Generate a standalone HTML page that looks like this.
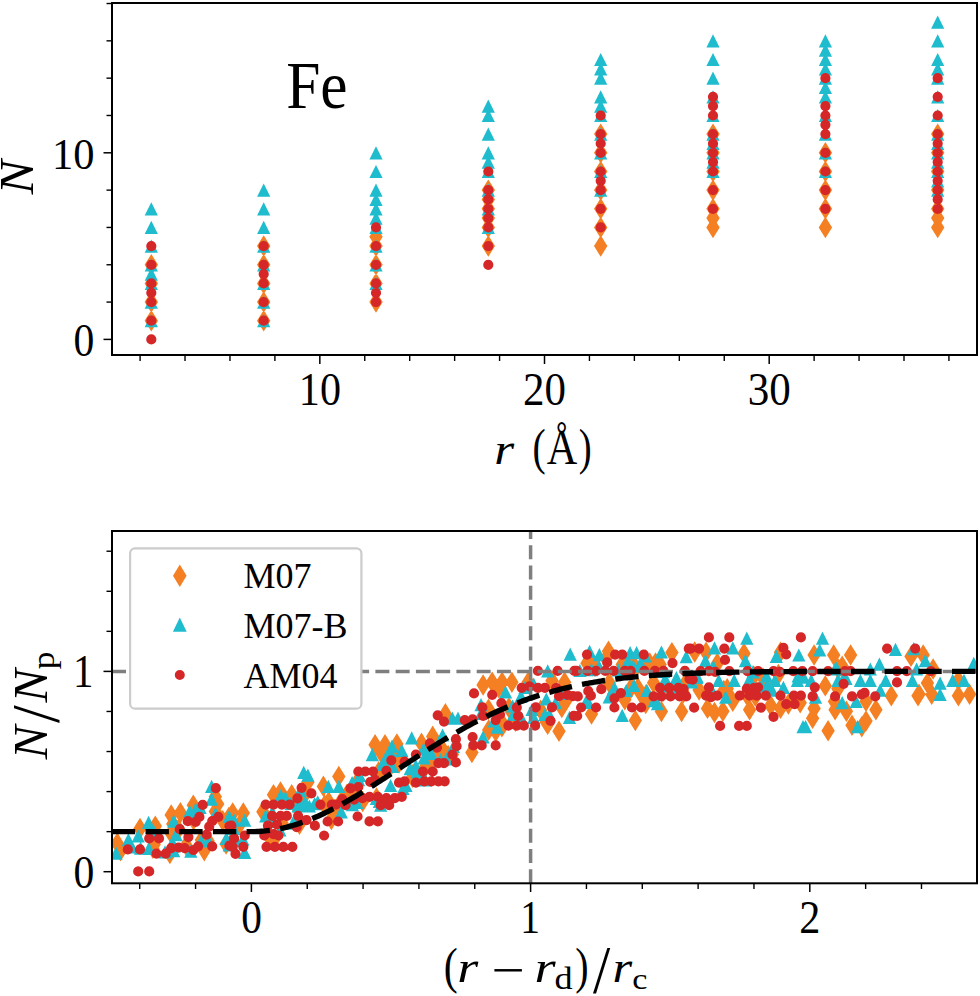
<!DOCTYPE html>
<html><head><meta charset="utf-8"><style>html,body{margin:0;padding:0;background:#fff;width:980px;height:996px;overflow:hidden}svg{display:block}</style></head>
<body><svg width="980" height="996" viewBox="0 0 980 996">
<rect width="980" height="996" fill="#fff"/>
<defs>
<clipPath id="ct"><rect x="112" y="3" width="865" height="352"/></clipPath>
<clipPath id="cb"><rect x="112" y="531" width="865" height="352.3"/></clipPath>
</defs>
<g clip-path="url(#ct)">
<path fill="#f58024" d="M151.3 310.0L158.0 320.7L151.3 331.5L144.6 320.7ZM151.3 291.3L158.0 302.1L151.3 312.8L144.6 302.1ZM151.3 272.7L158.0 283.4L151.3 294.2L144.6 283.4ZM151.3 254.0L158.0 264.8L151.3 275.5L144.6 264.8ZM263.7 310.0L270.4 320.7L263.7 331.5L257.0 320.7ZM263.7 291.3L270.4 302.1L263.7 312.8L257.0 302.1ZM263.7 272.7L270.4 283.4L263.7 294.2L257.0 283.4ZM263.7 254.0L270.4 264.8L263.7 275.5L257.0 264.8ZM263.7 235.3L270.4 246.1L263.7 256.8L257.0 246.1ZM376.0 291.3L382.7 302.1L376.0 312.8L369.3 302.1ZM376.0 272.7L382.7 283.4L376.0 294.2L369.3 283.4ZM376.0 254.0L382.7 264.8L376.0 275.5L369.3 264.8ZM376.0 235.3L382.7 246.1L376.0 256.8L369.3 246.1ZM376.0 226.0L382.7 236.8L376.0 247.5L369.3 236.8ZM488.3 235.3L495.0 246.1L488.3 256.8L481.6 246.1ZM488.3 216.7L495.0 227.4L488.3 238.2L481.6 227.4ZM488.3 207.4L495.0 218.1L488.3 228.9L481.6 218.1ZM488.3 198.0L495.0 208.8L488.3 219.5L481.6 208.8ZM488.3 188.7L495.0 199.4L488.3 210.2L481.6 199.4ZM488.3 179.4L495.0 190.1L488.3 200.9L481.6 190.1ZM600.7 235.3L607.4 246.1L600.7 256.8L594.0 246.1ZM600.7 216.7L607.4 227.4L600.7 238.2L594.0 227.4ZM600.7 198.0L607.4 208.8L600.7 219.5L594.0 208.8ZM600.7 179.4L607.4 190.1L600.7 200.9L594.0 190.1ZM600.7 160.7L607.4 171.5L600.7 182.2L594.0 171.5ZM600.7 142.0L607.4 152.8L600.7 163.5L594.0 152.8ZM600.7 123.4L607.4 134.1L600.7 144.9L594.0 134.1ZM713.0 216.7L719.7 227.4L713.0 238.2L706.3 227.4ZM713.0 207.4L719.7 218.1L713.0 228.9L706.3 218.1ZM713.0 198.0L719.7 208.8L713.0 219.5L706.3 208.8ZM713.0 179.4L719.7 190.1L713.0 200.9L706.3 190.1ZM713.0 160.7L719.7 171.5L713.0 182.2L706.3 171.5ZM713.0 142.0L719.7 152.8L713.0 163.5L706.3 152.8ZM713.0 123.4L719.7 134.1L713.0 144.9L706.3 134.1ZM825.4 216.7L832.1 227.4L825.4 238.2L818.7 227.4ZM825.4 198.0L832.1 208.8L825.4 219.5L818.7 208.8ZM825.4 179.4L832.1 190.1L825.4 200.9L818.7 190.1ZM825.4 160.7L832.1 171.5L825.4 182.2L818.7 171.5ZM825.4 142.0L832.1 152.8L825.4 163.5L818.7 152.8ZM937.7 216.7L944.4 227.4L937.7 238.2L931.0 227.4ZM937.7 207.4L944.4 218.1L937.7 228.9L931.0 218.1ZM937.7 198.0L944.4 208.8L937.7 219.5L931.0 208.8ZM937.7 179.4L944.4 190.1L937.7 200.9L931.0 190.1ZM937.7 160.7L944.4 171.5L937.7 182.2L931.0 171.5ZM937.7 142.0L944.4 152.8L937.7 163.5L931.0 152.8ZM937.7 123.4L944.4 134.1L937.7 144.9L931.0 134.1Z"/>
<path fill="#1fbcce" d="M151.3 314.1L157.9 327.3L144.7 327.3ZM151.3 295.5L157.9 308.7L144.7 308.7ZM151.3 276.8L157.9 290.0L144.7 290.0ZM151.3 267.5L157.9 280.7L144.7 280.7ZM151.3 258.2L157.9 271.4L144.7 271.4ZM151.3 239.5L157.9 252.7L144.7 252.7ZM151.3 220.8L157.9 234.0L144.7 234.0ZM151.3 202.2L157.9 215.4L144.7 215.4ZM263.7 314.1L270.3 327.3L257.1 327.3ZM263.7 295.5L270.3 308.7L257.1 308.7ZM263.7 276.8L270.3 290.0L257.1 290.0ZM263.7 258.2L270.3 271.4L257.1 271.4ZM263.7 239.5L270.3 252.7L257.1 252.7ZM263.7 220.8L270.3 234.0L257.1 234.0ZM263.7 202.2L270.3 215.4L257.1 215.4ZM263.7 183.5L270.3 196.7L257.1 196.7ZM376.0 276.8L382.6 290.0L369.4 290.0ZM376.0 258.2L382.6 271.4L369.4 271.4ZM376.0 239.5L382.6 252.7L369.4 252.7ZM376.0 220.8L382.6 234.0L369.4 234.0ZM376.0 211.5L382.6 224.7L369.4 224.7ZM376.0 202.2L382.6 215.4L369.4 215.4ZM376.0 192.8L382.6 206.0L369.4 206.0ZM376.0 183.5L382.6 196.7L369.4 196.7ZM376.0 164.9L382.6 178.1L369.4 178.1ZM376.0 146.2L382.6 159.4L369.4 159.4ZM488.3 220.8L494.9 234.0L481.7 234.0ZM488.3 202.2L494.9 215.4L481.7 215.4ZM488.3 183.5L494.9 196.7L481.7 196.7ZM488.3 164.9L494.9 178.1L481.7 178.1ZM488.3 155.5L494.9 168.7L481.7 168.7ZM488.3 146.2L494.9 159.4L481.7 159.4ZM488.3 127.5L494.9 140.7L481.7 140.7ZM488.3 108.9L494.9 122.1L481.7 122.1ZM488.3 99.5L494.9 112.7L481.7 112.7ZM600.7 183.5L607.3 196.7L594.1 196.7ZM600.7 164.9L607.3 178.1L594.1 178.1ZM600.7 146.2L607.3 159.4L594.1 159.4ZM600.7 127.5L607.3 140.7L594.1 140.7ZM600.7 108.9L607.3 122.1L594.1 122.1ZM600.7 99.5L607.3 112.7L594.1 112.7ZM600.7 90.2L607.3 103.4L594.1 103.4ZM600.7 71.6L607.3 84.8L594.1 84.8ZM600.7 62.2L607.3 75.4L594.1 75.4ZM600.7 52.9L607.3 66.1L594.1 66.1ZM713.0 164.9L719.6 178.1L706.4 178.1ZM713.0 155.5L719.6 168.7L706.4 168.7ZM713.0 146.2L719.6 159.4L706.4 159.4ZM713.0 136.9L719.6 150.1L706.4 150.1ZM713.0 127.5L719.6 140.7L706.4 140.7ZM713.0 108.9L719.6 122.1L706.4 122.1ZM713.0 90.2L719.6 103.4L706.4 103.4ZM713.0 71.6L719.6 84.8L706.4 84.8ZM713.0 52.9L719.6 66.1L706.4 66.1ZM713.0 34.2L719.6 47.4L706.4 47.4ZM825.4 164.9L832.0 178.1L818.8 178.1ZM825.4 146.2L832.0 159.4L818.8 159.4ZM825.4 127.5L832.0 140.7L818.8 140.7ZM825.4 108.9L832.0 122.1L818.8 122.1ZM825.4 90.2L832.0 103.4L818.8 103.4ZM825.4 80.9L832.0 94.1L818.8 94.1ZM825.4 71.6L832.0 84.8L818.8 84.8ZM825.4 62.2L832.0 75.4L818.8 75.4ZM825.4 52.9L832.0 66.1L818.8 66.1ZM825.4 43.6L832.0 56.8L818.8 56.8ZM825.4 34.2L832.0 47.4L818.8 47.4ZM937.7 183.5L944.3 196.7L931.1 196.7ZM937.7 174.2L944.3 187.4L931.1 187.4ZM937.7 164.9L944.3 178.1L931.1 178.1ZM937.7 155.5L944.3 168.7L931.1 168.7ZM937.7 146.2L944.3 159.4L931.1 159.4ZM937.7 136.9L944.3 150.1L931.1 150.1ZM937.7 127.5L944.3 140.7L931.1 140.7ZM937.7 108.9L944.3 122.1L931.1 122.1ZM937.7 90.2L944.3 103.4L931.1 103.4ZM937.7 71.6L944.3 84.8L931.1 84.8ZM937.7 62.2L944.3 75.4L931.1 75.4ZM937.7 52.9L944.3 66.1L931.1 66.1ZM937.7 34.2L944.3 47.4L931.1 47.4ZM937.7 15.6L944.3 28.8L931.1 28.8Z"/>
<path fill="#d62728" d="M146.2 339.4a5.1 5.1 0 1 0 10.2 0a5.1 5.1 0 1 0 -10.2 0ZM146.2 320.7a5.1 5.1 0 1 0 10.2 0a5.1 5.1 0 1 0 -10.2 0ZM146.2 302.1a5.1 5.1 0 1 0 10.2 0a5.1 5.1 0 1 0 -10.2 0ZM146.2 292.8a5.1 5.1 0 1 0 10.2 0a5.1 5.1 0 1 0 -10.2 0ZM146.2 283.4a5.1 5.1 0 1 0 10.2 0a5.1 5.1 0 1 0 -10.2 0ZM146.2 264.8a5.1 5.1 0 1 0 10.2 0a5.1 5.1 0 1 0 -10.2 0ZM146.2 246.1a5.1 5.1 0 1 0 10.2 0a5.1 5.1 0 1 0 -10.2 0ZM258.6 320.7a5.1 5.1 0 1 0 10.2 0a5.1 5.1 0 1 0 -10.2 0ZM258.6 302.1a5.1 5.1 0 1 0 10.2 0a5.1 5.1 0 1 0 -10.2 0ZM258.6 283.4a5.1 5.1 0 1 0 10.2 0a5.1 5.1 0 1 0 -10.2 0ZM258.6 274.1a5.1 5.1 0 1 0 10.2 0a5.1 5.1 0 1 0 -10.2 0ZM258.6 264.8a5.1 5.1 0 1 0 10.2 0a5.1 5.1 0 1 0 -10.2 0ZM258.6 246.1a5.1 5.1 0 1 0 10.2 0a5.1 5.1 0 1 0 -10.2 0ZM370.9 302.1a5.1 5.1 0 1 0 10.2 0a5.1 5.1 0 1 0 -10.2 0ZM370.9 292.8a5.1 5.1 0 1 0 10.2 0a5.1 5.1 0 1 0 -10.2 0ZM370.9 283.4a5.1 5.1 0 1 0 10.2 0a5.1 5.1 0 1 0 -10.2 0ZM370.9 264.8a5.1 5.1 0 1 0 10.2 0a5.1 5.1 0 1 0 -10.2 0ZM370.9 246.1a5.1 5.1 0 1 0 10.2 0a5.1 5.1 0 1 0 -10.2 0ZM370.9 227.4a5.1 5.1 0 1 0 10.2 0a5.1 5.1 0 1 0 -10.2 0ZM483.2 264.8a5.1 5.1 0 1 0 10.2 0a5.1 5.1 0 1 0 -10.2 0ZM483.2 246.1a5.1 5.1 0 1 0 10.2 0a5.1 5.1 0 1 0 -10.2 0ZM483.2 227.4a5.1 5.1 0 1 0 10.2 0a5.1 5.1 0 1 0 -10.2 0ZM483.2 218.1a5.1 5.1 0 1 0 10.2 0a5.1 5.1 0 1 0 -10.2 0ZM483.2 208.8a5.1 5.1 0 1 0 10.2 0a5.1 5.1 0 1 0 -10.2 0ZM483.2 199.4a5.1 5.1 0 1 0 10.2 0a5.1 5.1 0 1 0 -10.2 0ZM483.2 190.1a5.1 5.1 0 1 0 10.2 0a5.1 5.1 0 1 0 -10.2 0ZM483.2 171.5a5.1 5.1 0 1 0 10.2 0a5.1 5.1 0 1 0 -10.2 0ZM595.6 227.4a5.1 5.1 0 1 0 10.2 0a5.1 5.1 0 1 0 -10.2 0ZM595.6 208.8a5.1 5.1 0 1 0 10.2 0a5.1 5.1 0 1 0 -10.2 0ZM595.6 190.1a5.1 5.1 0 1 0 10.2 0a5.1 5.1 0 1 0 -10.2 0ZM595.6 180.8a5.1 5.1 0 1 0 10.2 0a5.1 5.1 0 1 0 -10.2 0ZM595.6 171.5a5.1 5.1 0 1 0 10.2 0a5.1 5.1 0 1 0 -10.2 0ZM595.6 152.8a5.1 5.1 0 1 0 10.2 0a5.1 5.1 0 1 0 -10.2 0ZM595.6 143.5a5.1 5.1 0 1 0 10.2 0a5.1 5.1 0 1 0 -10.2 0ZM595.6 134.1a5.1 5.1 0 1 0 10.2 0a5.1 5.1 0 1 0 -10.2 0ZM595.6 115.5a5.1 5.1 0 1 0 10.2 0a5.1 5.1 0 1 0 -10.2 0ZM707.9 208.8a5.1 5.1 0 1 0 10.2 0a5.1 5.1 0 1 0 -10.2 0ZM707.9 190.1a5.1 5.1 0 1 0 10.2 0a5.1 5.1 0 1 0 -10.2 0ZM707.9 171.5a5.1 5.1 0 1 0 10.2 0a5.1 5.1 0 1 0 -10.2 0ZM707.9 162.1a5.1 5.1 0 1 0 10.2 0a5.1 5.1 0 1 0 -10.2 0ZM707.9 152.8a5.1 5.1 0 1 0 10.2 0a5.1 5.1 0 1 0 -10.2 0ZM707.9 143.5a5.1 5.1 0 1 0 10.2 0a5.1 5.1 0 1 0 -10.2 0ZM707.9 134.1a5.1 5.1 0 1 0 10.2 0a5.1 5.1 0 1 0 -10.2 0ZM707.9 115.5a5.1 5.1 0 1 0 10.2 0a5.1 5.1 0 1 0 -10.2 0ZM707.9 106.1a5.1 5.1 0 1 0 10.2 0a5.1 5.1 0 1 0 -10.2 0ZM707.9 96.8a5.1 5.1 0 1 0 10.2 0a5.1 5.1 0 1 0 -10.2 0ZM820.3 208.8a5.1 5.1 0 1 0 10.2 0a5.1 5.1 0 1 0 -10.2 0ZM820.3 190.1a5.1 5.1 0 1 0 10.2 0a5.1 5.1 0 1 0 -10.2 0ZM820.3 171.5a5.1 5.1 0 1 0 10.2 0a5.1 5.1 0 1 0 -10.2 0ZM820.3 152.8a5.1 5.1 0 1 0 10.2 0a5.1 5.1 0 1 0 -10.2 0ZM820.3 134.1a5.1 5.1 0 1 0 10.2 0a5.1 5.1 0 1 0 -10.2 0ZM820.3 124.8a5.1 5.1 0 1 0 10.2 0a5.1 5.1 0 1 0 -10.2 0ZM820.3 115.5a5.1 5.1 0 1 0 10.2 0a5.1 5.1 0 1 0 -10.2 0ZM820.3 106.1a5.1 5.1 0 1 0 10.2 0a5.1 5.1 0 1 0 -10.2 0ZM820.3 78.2a5.1 5.1 0 1 0 10.2 0a5.1 5.1 0 1 0 -10.2 0ZM932.6 208.8a5.1 5.1 0 1 0 10.2 0a5.1 5.1 0 1 0 -10.2 0ZM932.6 199.4a5.1 5.1 0 1 0 10.2 0a5.1 5.1 0 1 0 -10.2 0ZM932.6 190.1a5.1 5.1 0 1 0 10.2 0a5.1 5.1 0 1 0 -10.2 0ZM932.6 180.8a5.1 5.1 0 1 0 10.2 0a5.1 5.1 0 1 0 -10.2 0ZM932.6 171.5a5.1 5.1 0 1 0 10.2 0a5.1 5.1 0 1 0 -10.2 0ZM932.6 162.1a5.1 5.1 0 1 0 10.2 0a5.1 5.1 0 1 0 -10.2 0ZM932.6 152.8a5.1 5.1 0 1 0 10.2 0a5.1 5.1 0 1 0 -10.2 0ZM932.6 143.5a5.1 5.1 0 1 0 10.2 0a5.1 5.1 0 1 0 -10.2 0ZM932.6 134.1a5.1 5.1 0 1 0 10.2 0a5.1 5.1 0 1 0 -10.2 0ZM932.6 115.5a5.1 5.1 0 1 0 10.2 0a5.1 5.1 0 1 0 -10.2 0ZM932.6 96.8a5.1 5.1 0 1 0 10.2 0a5.1 5.1 0 1 0 -10.2 0ZM932.6 78.2a5.1 5.1 0 1 0 10.2 0a5.1 5.1 0 1 0 -10.2 0Z"/>
</g>
<g clip-path="url(#cb)">
<path fill="#f58024" d="M120.5 840.0L127.2 850.7L120.5 861.5L113.8 850.7ZM154.2 833.8L160.9 844.5L154.2 855.3L147.5 844.5ZM169.9 842.7L176.6 853.4L169.9 864.2L163.2 853.4ZM172.8 813.1L179.5 823.9L172.8 834.6L166.1 823.9ZM178.5 818.7L185.2 829.4L178.5 840.2L171.8 829.4ZM186.2 834.8L192.9 845.5L186.2 856.3L179.5 845.5ZM193.5 809.0L200.2 819.8L193.5 830.5L186.8 819.8ZM201.4 829.3L208.1 840.1L201.4 850.8L194.7 840.1ZM217.7 793.3L224.4 804.0L217.7 814.8L211.0 804.0ZM216.2 792.0L222.9 802.7L216.2 813.5L209.5 802.7ZM222.8 810.0L229.5 820.7L222.8 831.5L216.1 820.7ZM226.1 833.3L232.8 844.0L226.1 854.8L219.4 844.0ZM233.0 829.4L239.7 840.1L233.0 850.9L226.3 840.1ZM240.0 813.3L246.7 824.1L240.0 834.8L233.3 824.1ZM270.0 827.6L276.7 838.4L270.0 849.1L263.3 838.4ZM274.9 827.5L281.6 838.3L274.9 849.0L268.2 838.3ZM282.1 812.6L288.8 823.3L282.1 834.1L275.4 823.3ZM293.6 790.2L300.3 801.0L293.6 811.7L286.9 801.0ZM294.1 792.0L300.8 802.8L294.1 813.5L287.4 802.8ZM300.5 811.4L307.2 822.1L300.5 832.9L293.8 822.1ZM324.7 794.4L331.4 805.1L324.7 815.9L318.0 805.1ZM331.4 808.8L338.1 819.5L331.4 830.3L324.7 819.5ZM328.7 791.1L335.4 801.9L328.7 812.6L322.0 801.9ZM334.4 799.1L341.1 809.9L334.4 820.6L327.7 809.9ZM334.9 800.8L341.6 811.5L334.9 822.3L328.2 811.5ZM342.4 788.6L349.1 799.4L342.4 810.1L335.7 799.4ZM347.0 783.5L353.7 794.2L347.0 805.0L340.3 794.2ZM355.3 775.6L362.0 786.3L355.3 797.1L348.6 786.3ZM362.7 790.8L369.4 801.5L362.7 812.3L356.0 801.5ZM358.2 784.8L364.9 795.6L358.2 806.3L351.5 795.6ZM376.5 787.2L383.2 797.9L376.5 808.7L369.8 797.9ZM378.7 761.0L385.4 771.8L378.7 782.5L372.0 771.8ZM389.9 756.4L396.6 767.1L389.9 777.9L383.2 767.1ZM395.5 736.3L402.2 747.0L395.5 757.8L388.8 747.0ZM412.5 766.6L419.2 777.4L412.5 788.1L405.8 777.4ZM429.8 753.4L436.5 764.1L429.8 774.9L423.1 764.1ZM430.0 736.5L436.7 747.2L430.0 758.0L423.3 747.2ZM439.5 740.8L446.2 751.6L439.5 762.3L432.8 751.6ZM448.3 744.9L455.0 755.7L448.3 766.4L441.6 755.7ZM452.4 743.9L459.1 754.6L452.4 765.4L445.7 754.6ZM488.5 698.5L495.2 709.2L488.5 720.0L481.8 709.2ZM498.8 677.1L505.5 687.8L498.8 698.6L492.1 687.8ZM501.9 716.1L508.6 726.9L501.9 737.6L495.2 726.9ZM503.3 713.9L510.0 724.7L503.3 735.4L496.6 724.7ZM508.9 696.9L515.6 707.7L508.9 718.4L502.2 707.7ZM515.4 710.5L522.1 721.3L515.4 732.0L508.7 721.3ZM546.2 711.2L552.9 722.0L546.2 732.7L539.5 722.0ZM566.5 689.2L573.2 700.0L566.5 710.7L559.8 700.0ZM587.0 652.4L593.7 663.2L587.0 673.9L580.3 663.2ZM595.0 655.5L601.7 666.2L595.0 677.0L588.3 666.2ZM606.1 647.8L612.8 658.6L606.1 669.3L599.4 658.6ZM613.4 683.8L620.1 694.6L613.4 705.3L606.7 694.6ZM622.4 658.5L629.1 669.3L622.4 680.0L615.7 669.3ZM631.0 677.2L637.7 687.9L631.0 698.7L624.3 687.9ZM635.6 657.0L642.3 667.7L635.6 678.5L628.9 667.7ZM645.7 688.7L652.4 699.5L645.7 710.2L639.0 699.5ZM646.2 683.8L652.9 694.6L646.2 705.3L639.5 694.6ZM655.5 652.3L662.2 663.1L655.5 673.8L648.8 663.1ZM663.0 680.8L669.7 691.6L663.0 702.3L656.3 691.6ZM675.6 676.4L682.3 687.1L675.6 697.9L668.9 687.1ZM683.4 682.1L690.1 692.9L683.4 703.6L676.7 692.9ZM694.7 641.3L701.4 652.1L694.7 662.8L688.0 652.1ZM723.8 679.8L730.5 690.5L723.8 701.3L717.1 690.5ZM746.8 684.3L753.5 695.1L746.8 705.8L740.1 695.1ZM753.8 665.2L760.5 675.9L753.8 686.7L747.1 675.9ZM755.3 685.6L762.0 696.4L755.3 707.1L748.6 696.4ZM763.0 667.2L769.7 678.0L763.0 688.7L756.3 678.0ZM778.4 663.7L785.1 674.4L778.4 685.2L771.7 674.4ZM788.4 693.3L795.1 704.0L788.4 714.8L781.7 704.0ZM834.5 690.8L841.2 701.6L834.5 712.3L827.8 701.6ZM838.2 658.3L844.9 669.0L838.2 679.8L831.5 669.0ZM171.2 804.3L177.9 815.1L171.2 825.8L164.5 815.1ZM180.4 801.9L187.1 812.7L180.4 823.4L173.7 812.7ZM193.3 794.6L200.0 805.3L193.3 816.1L186.6 805.3ZM215.3 786.0L222.0 796.7L215.3 807.5L208.6 796.7ZM215.3 800.7L222.0 811.4L215.3 822.2L208.6 811.4ZM228.8 806.8L235.5 817.5L228.8 828.3L222.1 817.5ZM140.0 817.8L146.7 828.6L140.0 839.3L133.3 828.6ZM155.3 815.4L162.0 826.1L155.3 836.9L148.6 826.1ZM117.3 832.5L124.0 843.3L117.3 854.0L110.6 843.3ZM152.9 837.4L159.6 848.2L152.9 858.9L146.2 848.2ZM204.3 839.9L211.0 850.6L204.3 861.4L197.6 850.6ZM171.2 822.7L177.9 833.5L171.2 844.2L164.5 833.5ZM208.0 830.1L214.7 840.8L208.0 851.6L201.3 840.8ZM232.7 802.3L239.4 813.1L232.7 823.8L226.0 813.1ZM243.3 802.3L250.0 813.1L243.3 823.8L236.6 813.1ZM273.5 784.0L280.2 794.8L273.5 805.5L266.8 794.8ZM280.5 781.2L287.2 792.0L280.5 802.7L273.8 792.0ZM291.7 784.0L298.4 794.8L291.7 805.5L285.0 794.8ZM338.8 765.8L345.5 776.5L338.8 787.3L332.1 776.5ZM323.4 775.6L330.1 786.4L323.4 797.1L316.7 786.4ZM303.7 785.5L310.4 796.2L303.7 807.0L297.0 796.2ZM307.9 771.4L314.6 782.2L307.9 792.9L301.2 782.2ZM262.9 800.9L269.6 811.7L262.9 822.4L256.2 811.7ZM299.5 813.6L306.2 824.3L299.5 835.1L292.8 824.3ZM337.4 802.3L344.1 813.1L337.4 823.8L330.7 813.1ZM375.1 734.0L381.8 744.8L375.1 755.5L368.4 744.8ZM385.0 734.0L391.7 744.8L385.0 755.5L378.3 744.8ZM396.9 733.3L403.6 744.1L396.9 754.8L390.2 744.1ZM445.4 703.1L452.1 713.9L445.4 724.6L438.7 713.9ZM432.7 725.6L439.4 736.4L432.7 747.1L426.0 736.4ZM421.5 732.6L428.2 743.4L421.5 754.1L414.8 743.4ZM444.0 741.1L450.7 751.8L444.0 762.6L437.3 751.8ZM399.0 752.3L405.7 763.1L399.0 773.8L392.3 763.1ZM413.1 763.6L419.8 774.3L413.1 785.1L406.4 774.3ZM382.2 743.9L388.9 754.6L382.2 765.4L375.5 754.6ZM358.3 769.2L365.0 779.9L358.3 790.7L351.6 779.9ZM424.3 757.9L431.0 768.7L424.3 779.4L417.6 768.7ZM483.1 674.2L489.8 685.0L483.1 695.7L476.4 685.0ZM492.2 671.4L498.9 682.2L492.2 692.9L485.5 682.2ZM502.1 671.4L508.8 682.2L502.1 692.9L495.4 682.2ZM511.9 671.4L518.6 682.2L511.9 692.9L505.2 682.2ZM528.1 671.4L534.8 682.2L528.1 692.9L521.4 682.2ZM559.0 720.6L565.7 731.3L559.0 742.1L552.3 731.3ZM547.7 713.6L554.4 724.3L547.7 735.1L541.0 724.3ZM552.0 670.0L558.7 680.7L552.0 691.5L545.3 680.7ZM564.6 671.4L571.3 682.2L564.6 692.9L557.9 682.2ZM540.7 699.5L547.4 710.3L540.7 721.0L534.0 710.3ZM488.7 719.2L495.4 729.9L488.7 740.7L482.0 729.9ZM471.9 741.7L478.6 752.4L471.9 763.2L465.2 752.4ZM495.7 720.6L502.4 731.3L495.7 742.1L489.0 731.3ZM561.8 696.7L568.5 707.4L561.8 718.2L555.1 707.4ZM608.5 640.6L615.2 651.3L608.5 662.1L601.8 651.3ZM671.9 641.9L678.6 652.6L671.9 663.4L665.2 652.6ZM592.2 655.0L598.9 665.7L592.2 676.5L585.5 665.7ZM622.2 653.6L628.9 664.4L622.2 675.1L615.5 664.4ZM632.7 653.6L639.4 664.4L632.7 675.1L626.0 664.4ZM649.7 652.3L656.4 663.1L649.7 673.8L643.0 663.1ZM660.1 653.6L666.8 664.4L660.1 675.1L653.4 664.4ZM609.2 671.9L615.9 682.7L609.2 693.4L602.5 682.7ZM637.9 677.2L644.6 687.9L637.9 698.7L631.2 687.9ZM624.8 688.9L631.5 699.7L624.8 710.4L618.1 699.7ZM645.7 692.8L652.4 703.6L645.7 714.3L639.0 703.6ZM640.5 682.4L647.2 693.1L640.5 703.9L633.8 693.1ZM591.5 703.3L598.2 714.0L591.5 724.8L584.8 714.0ZM635.3 709.8L642.0 720.5L635.3 731.3L628.6 720.5ZM661.4 700.7L668.1 711.4L661.4 722.2L654.7 711.4ZM681.6 700.7L688.3 711.4L681.6 722.2L674.9 711.4ZM653.6 671.9L660.3 682.7L653.6 693.4L646.9 682.7ZM684.9 673.2L691.6 684.0L684.9 694.7L678.2 684.0ZM706.1 641.4L712.8 652.2L706.1 662.9L699.4 652.2ZM744.0 642.8L750.7 653.6L744.0 664.3L737.3 653.6ZM780.5 641.4L787.2 652.2L780.5 662.9L773.8 652.2ZM717.3 652.6L724.0 663.4L717.3 674.1L710.6 663.4ZM765.1 672.3L771.8 683.1L765.1 693.8L758.4 683.1ZM699.1 679.3L705.8 690.1L699.1 700.8L692.4 690.1ZM727.2 677.9L733.9 688.7L727.2 699.4L720.5 688.7ZM707.5 697.6L714.2 708.4L707.5 719.1L700.8 708.4ZM714.5 701.8L721.2 712.6L714.5 723.3L707.8 712.6ZM722.9 700.4L729.6 711.2L722.9 721.9L716.2 711.2ZM749.6 699.0L756.3 709.8L749.6 720.5L742.9 709.8ZM770.7 694.8L777.4 705.5L770.7 716.3L764.0 705.5ZM780.5 697.6L787.2 708.4L780.5 719.1L773.8 708.4ZM800.2 692.0L806.9 702.7L800.2 713.5L793.5 702.7ZM732.8 690.6L739.5 701.3L732.8 712.1L726.1 701.3ZM814.1 644.2L820.8 655.0L814.1 665.7L807.4 655.0ZM833.7 644.2L840.4 655.0L833.7 665.7L827.0 655.0ZM850.6 644.2L857.3 655.0L850.6 665.7L843.9 655.0ZM842.2 655.5L848.9 666.2L842.2 677.0L835.5 666.2ZM825.3 675.1L832.0 685.9L825.3 696.6L818.6 685.9ZM837.9 677.9L844.6 688.7L837.9 699.4L831.2 688.7ZM891.3 685.0L898.0 695.7L891.3 706.5L884.6 695.7ZM918.0 685.0L924.7 695.7L918.0 706.5L911.3 695.7ZM814.1 697.6L820.8 708.4L814.1 719.1L807.4 708.4ZM835.1 699.0L841.8 709.8L835.1 720.5L828.4 709.8ZM846.4 700.4L853.1 711.2L846.4 721.9L839.7 711.2ZM875.9 699.0L882.6 709.8L875.9 720.5L869.2 709.8ZM812.6 707.4L819.3 718.2L812.6 728.9L805.9 718.2ZM828.1 720.1L834.8 730.8L828.1 741.6L821.4 730.8ZM852.0 714.5L858.7 725.2L852.0 736.0L845.3 725.2ZM861.8 715.9L868.5 726.6L861.8 737.4L855.1 726.6ZM866.0 710.3L872.7 721.0L866.0 731.8L859.3 721.0ZM866.0 690.6L872.7 701.3L866.0 712.1L859.3 701.3ZM911.0 645.6L917.7 656.4L911.0 667.1L904.3 656.4ZM923.2 644.2L929.9 655.0L923.2 665.7L916.5 655.0ZM919.0 683.6L925.7 694.3L919.0 705.1L912.3 694.3ZM931.7 683.6L938.4 694.3L931.7 705.1L925.0 694.3ZM933.1 658.3L939.8 669.0L933.1 679.8L926.4 669.0ZM958.4 685.0L965.1 695.7L958.4 706.5L951.7 695.7ZM969.6 683.6L976.3 694.3L969.6 705.1L962.9 694.3ZM927.4 672.3L934.1 683.1L927.4 693.8L920.7 683.1ZM958.4 669.5L965.1 680.3L958.4 691.0L951.7 680.3Z"/>
<path fill="#1fbcce" d="M131.9 840.3L138.5 853.5L125.3 853.5ZM153.9 824.9L160.5 838.1L147.3 838.1ZM148.9 841.7L155.5 854.9L142.3 854.9ZM165.0 845.3L171.6 858.5L158.4 858.5ZM172.4 835.8L179.0 849.0L165.8 849.0ZM174.3 839.4L180.9 852.6L167.7 852.6ZM189.7 810.6L196.3 823.8L183.1 823.8ZM200.1 800.8L206.7 814.0L193.5 814.0ZM201.2 834.3L207.8 847.5L194.6 847.5ZM208.2 833.5L214.8 846.7L201.6 846.7ZM215.5 807.1L222.1 820.3L208.9 820.3ZM229.2 809.9L235.8 823.1L222.6 823.1ZM229.2 838.4L235.8 851.6L222.6 851.6ZM233.6 821.7L240.2 834.9L227.0 834.9ZM235.2 833.7L241.8 846.9L228.6 846.9ZM242.9 832.6L249.5 845.8L236.3 845.8ZM273.8 814.7L280.4 827.9L267.2 827.9ZM272.3 805.2L278.9 818.4L265.7 818.4ZM279.9 823.3L286.5 836.5L273.3 836.5ZM280.8 788.9L287.4 802.1L274.2 802.1ZM291.0 796.8L297.6 810.0L284.4 810.0ZM292.8 816.5L299.4 829.7L286.2 829.7ZM295.5 816.2L302.1 829.4L288.9 829.4ZM301.0 798.7L307.6 811.9L294.4 811.9ZM300.6 783.5L307.2 796.7L294.0 796.7ZM305.0 795.5L311.6 808.7L298.4 808.7ZM306.0 797.4L312.6 810.6L299.4 810.6ZM314.6 797.0L321.2 810.2L308.0 810.2ZM341.3 805.2L347.9 818.4L334.7 818.4ZM352.1 776.1L358.7 789.3L345.5 789.3ZM352.4 798.1L359.0 811.3L345.8 811.3ZM358.6 773.1L365.2 786.3L352.0 786.3ZM359.6 768.9L366.2 782.1L353.0 782.1ZM374.1 769.5L380.7 782.7L367.5 782.7ZM376.4 791.7L383.0 804.9L369.8 804.9ZM379.3 794.9L385.9 808.1L372.7 808.1ZM385.2 752.6L391.8 765.8L378.6 765.8ZM392.6 759.7L399.2 772.9L386.0 772.9ZM390.1 744.8L396.7 758.0L383.5 758.0ZM403.0 781.8L409.6 795.0L396.4 795.0ZM410.2 762.1L416.8 775.3L403.6 775.3ZM417.2 765.0L423.8 778.2L410.6 778.2ZM419.6 773.3L426.2 786.5L413.0 786.5ZM425.5 773.4L432.1 786.6L418.9 786.6ZM424.0 751.3L430.6 764.5L417.4 764.5ZM430.5 746.9L437.1 760.1L423.9 760.1ZM440.5 753.1L447.1 766.3L433.9 766.3ZM446.3 752.2L452.9 765.4L439.7 765.4ZM453.4 739.7L460.0 752.9L446.8 752.9ZM481.0 706.7L487.6 719.9L474.4 719.9ZM494.0 714.3L500.6 727.5L487.4 727.5ZM513.3 707.9L519.9 721.1L506.7 721.1ZM521.9 712.2L528.5 725.4L515.3 725.4ZM525.0 680.8L531.6 694.0L518.4 694.0ZM532.0 702.9L538.6 716.1L525.4 716.1ZM533.7 677.6L540.3 690.8L527.1 690.8ZM549.3 707.7L555.9 720.9L542.7 720.9ZM555.6 696.1L562.2 709.3L549.0 709.3ZM560.4 686.8L567.0 700.0L553.8 700.0ZM579.9 663.9L586.5 677.1L573.3 677.1ZM587.2 695.9L593.8 709.1L580.6 709.1ZM599.2 659.9L605.8 673.1L592.6 673.1ZM618.3 663.2L624.9 676.4L611.7 676.4ZM627.8 654.7L634.4 667.9L621.2 667.9ZM633.2 659.4L639.8 672.6L626.6 672.6ZM645.2 649.2L651.8 662.4L638.6 662.4ZM654.3 694.0L660.9 707.2L647.7 707.2ZM663.8 664.8L670.4 678.0L657.2 678.0ZM667.1 679.2L673.7 692.4L660.5 692.4ZM673.9 682.0L680.5 695.2L667.3 695.2ZM676.2 680.3L682.8 693.5L669.6 693.5ZM691.8 675.4L698.4 688.6L685.2 688.6ZM697.1 669.9L703.7 683.1L690.5 683.1ZM711.8 683.6L718.4 696.8L705.2 696.8ZM713.4 660.1L720.0 673.3L706.8 673.3ZM752.9 665.3L759.5 678.5L746.3 678.5ZM761.3 679.8L767.9 693.0L754.7 693.0ZM766.9 678.9L773.5 692.1L760.3 692.1ZM798.2 669.3L804.8 682.5L791.6 682.5ZM803.7 670.6L810.3 683.8L797.1 683.8ZM836.6 661.4L843.2 674.6L830.0 674.6ZM843.5 671.2L850.1 684.4L836.9 684.4ZM846.0 671.8L852.6 685.0L839.4 685.0ZM211.6 779.7L218.2 792.9L205.0 792.9ZM211.6 792.6L218.2 805.8L205.0 805.8ZM189.6 804.8L196.2 818.0L183.0 818.0ZM173.7 814.6L180.3 827.8L167.1 827.8ZM148.6 815.8L155.2 829.0L142.0 829.0ZM138.2 829.3L144.8 842.5L131.6 842.5ZM128.4 833.0L135.0 846.2L121.8 846.2ZM116.1 846.5L122.7 859.7L109.5 859.7ZM176.1 828.1L182.7 841.3L169.5 841.3ZM190.8 844.6L197.4 857.8L184.2 857.8ZM226.3 831.8L232.9 845.0L219.7 845.0ZM195.7 802.4L202.3 815.6L189.1 815.6ZM140.6 841.6L147.2 854.8L134.0 854.8ZM173.7 844.0L180.3 857.2L167.1 857.2ZM303.7 765.7L310.3 778.9L297.1 778.9ZM307.9 768.5L314.5 781.7L301.3 781.7ZM328.3 779.8L334.9 793.0L321.7 793.0ZM338.8 779.8L345.4 793.0L332.2 793.0ZM285.4 791.0L292.0 804.2L278.8 804.2ZM298.1 799.4L304.7 812.6L291.5 812.6ZM317.7 795.2L324.3 808.4L311.1 808.4ZM309.3 799.4L315.9 812.6L302.7 812.6ZM234.1 813.5L240.7 826.7L227.5 826.7ZM244.7 813.5L251.3 826.7L238.1 826.7ZM265.7 809.3L272.3 822.5L259.1 822.5ZM244.7 845.8L251.3 859.0L238.1 859.0ZM411.7 731.2L418.3 744.4L405.1 744.4ZM372.3 748.0L378.9 761.2L365.7 761.2ZM392.0 739.6L398.6 752.8L385.4 752.8ZM401.8 743.8L408.4 757.0L395.2 757.0ZM423.6 742.4L430.2 755.6L417.0 755.6ZM452.4 711.5L459.0 724.7L445.8 724.7ZM458.0 711.5L464.6 724.7L451.4 724.7ZM442.6 728.4L449.2 741.6L436.0 741.6ZM431.3 746.6L437.9 759.8L424.7 759.8ZM415.9 759.3L422.5 772.5L409.3 772.5ZM382.2 757.9L388.8 771.1L375.6 771.1ZM390.6 778.9L397.2 792.1L384.0 792.1ZM406.0 778.9L412.6 792.1L399.4 792.1ZM356.9 795.8L363.5 809.0L350.3 809.0ZM380.7 798.6L387.3 811.8L374.1 811.8ZM570.2 647.5L576.8 660.7L563.6 660.7ZM547.7 664.3L554.3 677.5L541.1 677.5ZM505.6 685.4L512.2 698.6L499.0 698.6ZM481.0 698.0L487.6 711.2L474.4 711.2ZM512.6 699.4L519.2 712.6L506.0 712.6ZM483.1 730.4L489.7 743.6L476.5 743.6ZM497.2 720.5L503.8 733.7L490.6 733.7ZM544.9 707.9L551.5 721.1L538.3 721.1ZM569.5 710.7L576.1 723.9L562.9 723.9ZM546.3 692.4L552.9 705.6L539.7 705.6ZM521.0 689.6L527.6 702.8L514.4 702.8ZM533.7 710.7L540.3 723.9L527.1 723.9ZM599.4 648.0L606.0 661.2L592.8 661.2ZM589.6 644.7L596.2 657.9L583.0 657.9ZM630.1 646.0L636.7 659.2L623.5 659.2ZM636.6 646.0L643.2 659.2L630.0 659.2ZM661.4 645.4L668.0 658.6L654.8 658.6ZM686.2 650.0L692.8 663.2L679.6 663.2ZM591.5 663.0L598.1 676.2L584.9 676.2ZM640.5 656.5L647.1 669.7L633.9 669.7ZM676.4 670.9L683.0 684.1L669.8 684.1ZM665.3 672.2L671.9 685.4L658.7 685.4ZM614.4 681.3L621.0 694.5L607.8 694.5ZM609.2 690.4L615.8 703.6L602.6 703.6ZM626.2 683.9L632.8 697.1L619.6 697.1ZM647.0 683.9L653.6 697.1L640.4 697.1ZM622.2 708.7L628.8 721.9L615.6 721.9ZM657.5 697.0L664.1 710.2L650.9 710.2ZM634.0 678.7L640.6 691.9L627.4 691.9ZM587.0 693.1L593.6 706.3L580.4 706.3ZM746.8 631.5L753.4 644.7L740.2 644.7ZM714.5 641.3L721.1 654.5L707.9 654.5ZM732.8 641.3L739.4 654.5L726.2 654.5ZM705.4 654.0L712.0 667.2L698.8 667.2ZM745.4 654.0L752.0 667.2L738.8 667.2ZM776.3 649.8L782.9 663.0L769.7 663.0ZM798.8 648.4L805.4 661.6L792.2 661.6ZM696.9 670.8L703.5 684.0L690.3 684.0ZM718.7 673.7L725.3 686.9L712.1 686.9ZM734.2 673.7L740.8 686.9L727.6 686.9ZM749.6 672.2L756.2 685.4L743.0 685.4ZM766.5 669.4L773.1 682.6L759.9 682.6ZM774.9 673.7L781.5 686.9L768.3 686.9ZM797.4 673.7L804.0 686.9L790.8 686.9ZM725.7 690.5L732.3 703.7L719.1 703.7ZM783.4 680.7L790.0 693.9L776.8 693.9ZM803.0 720.0L809.6 733.2L796.4 733.2ZM772.1 683.5L778.7 696.7L765.5 696.7ZM822.5 631.5L829.1 644.7L815.9 644.7ZM819.7 643.4L826.3 656.6L813.1 656.6ZM895.5 642.7L902.1 655.9L888.9 655.9ZM913.8 642.0L920.4 655.2L907.2 655.2ZM879.4 657.5L886.0 670.7L872.8 670.7ZM870.3 662.4L876.9 675.6L863.7 675.6ZM835.1 662.4L841.7 675.6L828.5 675.6ZM860.4 673.7L867.0 686.9L853.8 686.9ZM870.3 673.7L876.9 686.9L863.7 686.9ZM837.9 673.7L844.5 686.9L831.3 686.9ZM885.7 673.7L892.3 686.9L879.1 686.9ZM912.4 673.7L919.0 686.9L905.8 686.9ZM811.2 673.7L817.8 686.9L804.6 686.9ZM880.1 683.5L886.7 696.7L873.5 696.7ZM815.5 690.5L822.1 703.7L808.9 703.7ZM842.2 696.1L848.8 709.3L835.6 709.3ZM856.2 694.7L862.8 707.9L849.6 707.9ZM805.6 720.0L812.2 733.2L799.0 733.2ZM857.6 720.0L864.2 733.2L851.0 733.2ZM916.6 662.4L923.2 675.6L910.0 675.6ZM925.3 654.0L931.9 667.2L918.7 667.2ZM940.1 676.5L946.7 689.7L933.5 689.7ZM940.1 687.7L946.7 700.9L933.5 700.9ZM952.7 673.7L959.3 686.9L946.1 686.9ZM964.0 673.7L970.6 686.9L957.4 686.9ZM973.8 656.8L980.4 670.0L967.2 670.0Z"/>
<path fill="#d62728" d="M210.8 788.2a5.1 5.1 0 1 0 10.2 0a5.1 5.1 0 1 0 -10.2 0ZM197.6 804.9a5.1 5.1 0 1 0 10.2 0a5.1 5.1 0 1 0 -10.2 0ZM194.3 816.9a5.1 5.1 0 1 0 10.2 0a5.1 5.1 0 1 0 -10.2 0ZM190.6 821.8a5.1 5.1 0 1 0 10.2 0a5.1 5.1 0 1 0 -10.2 0ZM182.7 821.2a5.1 5.1 0 1 0 10.2 0a5.1 5.1 0 1 0 -10.2 0ZM213.3 816.9a5.1 5.1 0 1 0 10.2 0a5.1 5.1 0 1 0 -10.2 0ZM207.1 821.2a5.1 5.1 0 1 0 10.2 0a5.1 5.1 0 1 0 -10.2 0ZM204.1 826.7a5.1 5.1 0 1 0 10.2 0a5.1 5.1 0 1 0 -10.2 0ZM174.7 829.2a5.1 5.1 0 1 0 10.2 0a5.1 5.1 0 1 0 -10.2 0ZM201.6 834.7a5.1 5.1 0 1 0 10.2 0a5.1 5.1 0 1 0 -10.2 0ZM144.1 838.4a5.1 5.1 0 1 0 10.2 0a5.1 5.1 0 1 0 -10.2 0ZM153.9 838.4a5.1 5.1 0 1 0 10.2 0a5.1 5.1 0 1 0 -10.2 0ZM183.3 837.1a5.1 5.1 0 1 0 10.2 0a5.1 5.1 0 1 0 -10.2 0ZM122.7 849.4a5.1 5.1 0 1 0 10.2 0a5.1 5.1 0 1 0 -10.2 0ZM134.9 849.4a5.1 5.1 0 1 0 10.2 0a5.1 5.1 0 1 0 -10.2 0ZM151.4 853.7a5.1 5.1 0 1 0 10.2 0a5.1 5.1 0 1 0 -10.2 0ZM160.6 853.7a5.1 5.1 0 1 0 10.2 0a5.1 5.1 0 1 0 -10.2 0ZM166.1 848.2a5.1 5.1 0 1 0 10.2 0a5.1 5.1 0 1 0 -10.2 0ZM173.5 847.5a5.1 5.1 0 1 0 10.2 0a5.1 5.1 0 1 0 -10.2 0ZM179.6 848.2a5.1 5.1 0 1 0 10.2 0a5.1 5.1 0 1 0 -10.2 0ZM188.2 850.0a5.1 5.1 0 1 0 10.2 0a5.1 5.1 0 1 0 -10.2 0ZM193.1 846.3a5.1 5.1 0 1 0 10.2 0a5.1 5.1 0 1 0 -10.2 0ZM207.1 846.3a5.1 5.1 0 1 0 10.2 0a5.1 5.1 0 1 0 -10.2 0ZM133.1 871.4a5.1 5.1 0 1 0 10.2 0a5.1 5.1 0 1 0 -10.2 0ZM144.1 871.4a5.1 5.1 0 1 0 10.2 0a5.1 5.1 0 1 0 -10.2 0ZM224.3 826.1a5.1 5.1 0 1 0 10.2 0a5.1 5.1 0 1 0 -10.2 0ZM224.3 845.7a5.1 5.1 0 1 0 10.2 0a5.1 5.1 0 1 0 -10.2 0ZM226.2 825.7a5.1 5.1 0 1 0 10.2 0a5.1 5.1 0 1 0 -10.2 0ZM229.0 838.4a5.1 5.1 0 1 0 10.2 0a5.1 5.1 0 1 0 -10.2 0ZM227.6 846.8a5.1 5.1 0 1 0 10.2 0a5.1 5.1 0 1 0 -10.2 0ZM230.4 853.8a5.1 5.1 0 1 0 10.2 0a5.1 5.1 0 1 0 -10.2 0ZM239.6 835.5a5.1 5.1 0 1 0 10.2 0a5.1 5.1 0 1 0 -10.2 0ZM238.2 846.8a5.1 5.1 0 1 0 10.2 0a5.1 5.1 0 1 0 -10.2 0ZM260.6 804.6a5.1 5.1 0 1 0 10.2 0a5.1 5.1 0 1 0 -10.2 0ZM268.4 804.6a5.1 5.1 0 1 0 10.2 0a5.1 5.1 0 1 0 -10.2 0ZM276.8 804.6a5.1 5.1 0 1 0 10.2 0a5.1 5.1 0 1 0 -10.2 0ZM284.5 804.6a5.1 5.1 0 1 0 10.2 0a5.1 5.1 0 1 0 -10.2 0ZM267.0 815.9a5.1 5.1 0 1 0 10.2 0a5.1 5.1 0 1 0 -10.2 0ZM275.4 815.9a5.1 5.1 0 1 0 10.2 0a5.1 5.1 0 1 0 -10.2 0ZM281.7 815.9a5.1 5.1 0 1 0 10.2 0a5.1 5.1 0 1 0 -10.2 0ZM262.8 825.7a5.1 5.1 0 1 0 10.2 0a5.1 5.1 0 1 0 -10.2 0ZM271.9 824.3a5.1 5.1 0 1 0 10.2 0a5.1 5.1 0 1 0 -10.2 0ZM259.2 835.5a5.1 5.1 0 1 0 10.2 0a5.1 5.1 0 1 0 -10.2 0ZM268.4 834.1a5.1 5.1 0 1 0 10.2 0a5.1 5.1 0 1 0 -10.2 0ZM273.3 835.5a5.1 5.1 0 1 0 10.2 0a5.1 5.1 0 1 0 -10.2 0ZM261.4 846.8a5.1 5.1 0 1 0 10.2 0a5.1 5.1 0 1 0 -10.2 0ZM269.8 846.8a5.1 5.1 0 1 0 10.2 0a5.1 5.1 0 1 0 -10.2 0ZM278.2 846.8a5.1 5.1 0 1 0 10.2 0a5.1 5.1 0 1 0 -10.2 0ZM287.3 846.8a5.1 5.1 0 1 0 10.2 0a5.1 5.1 0 1 0 -10.2 0ZM296.5 787.8a5.1 5.1 0 1 0 10.2 0a5.1 5.1 0 1 0 -10.2 0ZM306.3 793.4a5.1 5.1 0 1 0 10.2 0a5.1 5.1 0 1 0 -10.2 0ZM292.3 798.3a5.1 5.1 0 1 0 10.2 0a5.1 5.1 0 1 0 -10.2 0ZM293.0 815.9a5.1 5.1 0 1 0 10.2 0a5.1 5.1 0 1 0 -10.2 0ZM301.4 820.1a5.1 5.1 0 1 0 10.2 0a5.1 5.1 0 1 0 -10.2 0ZM309.8 825.7a5.1 5.1 0 1 0 10.2 0a5.1 5.1 0 1 0 -10.2 0ZM315.4 804.6a5.1 5.1 0 1 0 10.2 0a5.1 5.1 0 1 0 -10.2 0ZM326.7 804.6a5.1 5.1 0 1 0 10.2 0a5.1 5.1 0 1 0 -10.2 0ZM330.9 804.6a5.1 5.1 0 1 0 10.2 0a5.1 5.1 0 1 0 -10.2 0ZM337.2 799.0a5.1 5.1 0 1 0 10.2 0a5.1 5.1 0 1 0 -10.2 0ZM322.5 821.5a5.1 5.1 0 1 0 10.2 0a5.1 5.1 0 1 0 -10.2 0ZM333.0 821.5a5.1 5.1 0 1 0 10.2 0a5.1 5.1 0 1 0 -10.2 0ZM319.0 835.5a5.1 5.1 0 1 0 10.2 0a5.1 5.1 0 1 0 -10.2 0ZM291.6 827.1a5.1 5.1 0 1 0 10.2 0a5.1 5.1 0 1 0 -10.2 0ZM432.6 715.3a5.1 5.1 0 1 0 10.2 0a5.1 5.1 0 1 0 -10.2 0ZM438.9 721.6a5.1 5.1 0 1 0 10.2 0a5.1 5.1 0 1 0 -10.2 0ZM424.8 743.4a5.1 5.1 0 1 0 10.2 0a5.1 5.1 0 1 0 -10.2 0ZM431.9 747.6a5.1 5.1 0 1 0 10.2 0a5.1 5.1 0 1 0 -10.2 0ZM410.8 754.6a5.1 5.1 0 1 0 10.2 0a5.1 5.1 0 1 0 -10.2 0ZM399.5 761.7a5.1 5.1 0 1 0 10.2 0a5.1 5.1 0 1 0 -10.2 0ZM386.2 760.3a5.1 5.1 0 1 0 10.2 0a5.1 5.1 0 1 0 -10.2 0ZM353.2 771.5a5.1 5.1 0 1 0 10.2 0a5.1 5.1 0 1 0 -10.2 0ZM360.2 771.5a5.1 5.1 0 1 0 10.2 0a5.1 5.1 0 1 0 -10.2 0ZM367.9 771.5a5.1 5.1 0 1 0 10.2 0a5.1 5.1 0 1 0 -10.2 0ZM381.3 770.8a5.1 5.1 0 1 0 10.2 0a5.1 5.1 0 1 0 -10.2 0ZM345.4 788.4a5.1 5.1 0 1 0 10.2 0a5.1 5.1 0 1 0 -10.2 0ZM353.2 787.0a5.1 5.1 0 1 0 10.2 0a5.1 5.1 0 1 0 -10.2 0ZM365.1 782.0a5.1 5.1 0 1 0 10.2 0a5.1 5.1 0 1 0 -10.2 0ZM370.0 779.9a5.1 5.1 0 1 0 10.2 0a5.1 5.1 0 1 0 -10.2 0ZM393.9 782.7a5.1 5.1 0 1 0 10.2 0a5.1 5.1 0 1 0 -10.2 0ZM399.5 781.3a5.1 5.1 0 1 0 10.2 0a5.1 5.1 0 1 0 -10.2 0ZM410.8 782.7a5.1 5.1 0 1 0 10.2 0a5.1 5.1 0 1 0 -10.2 0ZM417.8 771.5a5.1 5.1 0 1 0 10.2 0a5.1 5.1 0 1 0 -10.2 0ZM427.6 771.5a5.1 5.1 0 1 0 10.2 0a5.1 5.1 0 1 0 -10.2 0ZM419.2 781.3a5.1 5.1 0 1 0 10.2 0a5.1 5.1 0 1 0 -10.2 0ZM426.2 781.3a5.1 5.1 0 1 0 10.2 0a5.1 5.1 0 1 0 -10.2 0ZM433.3 781.3a5.1 5.1 0 1 0 10.2 0a5.1 5.1 0 1 0 -10.2 0ZM439.6 781.3a5.1 5.1 0 1 0 10.2 0a5.1 5.1 0 1 0 -10.2 0ZM433.3 763.1a5.1 5.1 0 1 0 10.2 0a5.1 5.1 0 1 0 -10.2 0ZM438.9 763.1a5.1 5.1 0 1 0 10.2 0a5.1 5.1 0 1 0 -10.2 0ZM447.3 754.6a5.1 5.1 0 1 0 10.2 0a5.1 5.1 0 1 0 -10.2 0ZM450.8 762.4a5.1 5.1 0 1 0 10.2 0a5.1 5.1 0 1 0 -10.2 0ZM450.8 739.2a5.1 5.1 0 1 0 10.2 0a5.1 5.1 0 1 0 -10.2 0ZM451.5 746.2a5.1 5.1 0 1 0 10.2 0a5.1 5.1 0 1 0 -10.2 0ZM340.5 805.2a5.1 5.1 0 1 0 10.2 0a5.1 5.1 0 1 0 -10.2 0ZM349.0 799.6a5.1 5.1 0 1 0 10.2 0a5.1 5.1 0 1 0 -10.2 0ZM357.4 798.2a5.1 5.1 0 1 0 10.2 0a5.1 5.1 0 1 0 -10.2 0ZM364.4 796.8a5.1 5.1 0 1 0 10.2 0a5.1 5.1 0 1 0 -10.2 0ZM372.8 796.8a5.1 5.1 0 1 0 10.2 0a5.1 5.1 0 1 0 -10.2 0ZM381.3 798.2a5.1 5.1 0 1 0 10.2 0a5.1 5.1 0 1 0 -10.2 0ZM389.7 798.2a5.1 5.1 0 1 0 10.2 0a5.1 5.1 0 1 0 -10.2 0ZM396.7 796.8a5.1 5.1 0 1 0 10.2 0a5.1 5.1 0 1 0 -10.2 0ZM375.6 805.2a5.1 5.1 0 1 0 10.2 0a5.1 5.1 0 1 0 -10.2 0ZM384.1 805.2a5.1 5.1 0 1 0 10.2 0a5.1 5.1 0 1 0 -10.2 0ZM352.5 816.5a5.1 5.1 0 1 0 10.2 0a5.1 5.1 0 1 0 -10.2 0ZM364.4 821.4a5.1 5.1 0 1 0 10.2 0a5.1 5.1 0 1 0 -10.2 0ZM372.8 821.4a5.1 5.1 0 1 0 10.2 0a5.1 5.1 0 1 0 -10.2 0ZM468.9 693.4a5.1 5.1 0 1 0 10.2 0a5.1 5.1 0 1 0 -10.2 0ZM487.1 694.8a5.1 5.1 0 1 0 10.2 0a5.1 5.1 0 1 0 -10.2 0ZM477.3 707.4a5.1 5.1 0 1 0 10.2 0a5.1 5.1 0 1 0 -10.2 0ZM478.0 715.9a5.1 5.1 0 1 0 10.2 0a5.1 5.1 0 1 0 -10.2 0ZM496.3 703.2a5.1 5.1 0 1 0 10.2 0a5.1 5.1 0 1 0 -10.2 0ZM494.9 714.5a5.1 5.1 0 1 0 10.2 0a5.1 5.1 0 1 0 -10.2 0ZM490.6 720.1a5.1 5.1 0 1 0 10.2 0a5.1 5.1 0 1 0 -10.2 0ZM459.7 720.1a5.1 5.1 0 1 0 10.2 0a5.1 5.1 0 1 0 -10.2 0ZM467.5 719.4a5.1 5.1 0 1 0 10.2 0a5.1 5.1 0 1 0 -10.2 0ZM467.5 737.0a5.1 5.1 0 1 0 10.2 0a5.1 5.1 0 1 0 -10.2 0ZM468.2 745.4a5.1 5.1 0 1 0 10.2 0a5.1 5.1 0 1 0 -10.2 0ZM476.6 745.4a5.1 5.1 0 1 0 10.2 0a5.1 5.1 0 1 0 -10.2 0ZM490.6 745.4a5.1 5.1 0 1 0 10.2 0a5.1 5.1 0 1 0 -10.2 0ZM511.7 707.4a5.1 5.1 0 1 0 10.2 0a5.1 5.1 0 1 0 -10.2 0ZM513.1 715.9a5.1 5.1 0 1 0 10.2 0a5.1 5.1 0 1 0 -10.2 0ZM503.3 725.7a5.1 5.1 0 1 0 10.2 0a5.1 5.1 0 1 0 -10.2 0ZM511.7 725.7a5.1 5.1 0 1 0 10.2 0a5.1 5.1 0 1 0 -10.2 0ZM518.7 725.7a5.1 5.1 0 1 0 10.2 0a5.1 5.1 0 1 0 -10.2 0ZM530.0 725.7a5.1 5.1 0 1 0 10.2 0a5.1 5.1 0 1 0 -10.2 0ZM516.6 687.8a5.1 5.1 0 1 0 10.2 0a5.1 5.1 0 1 0 -10.2 0ZM524.4 686.4a5.1 5.1 0 1 0 10.2 0a5.1 5.1 0 1 0 -10.2 0ZM532.8 687.8a5.1 5.1 0 1 0 10.2 0a5.1 5.1 0 1 0 -10.2 0ZM539.8 687.8a5.1 5.1 0 1 0 10.2 0a5.1 5.1 0 1 0 -10.2 0ZM530.7 707.4a5.1 5.1 0 1 0 10.2 0a5.1 5.1 0 1 0 -10.2 0ZM546.9 707.4a5.1 5.1 0 1 0 10.2 0a5.1 5.1 0 1 0 -10.2 0ZM545.4 720.8a5.1 5.1 0 1 0 10.2 0a5.1 5.1 0 1 0 -10.2 0ZM532.8 670.9a5.1 5.1 0 1 0 10.2 0a5.1 5.1 0 1 0 -10.2 0ZM552.5 670.9a5.1 5.1 0 1 0 10.2 0a5.1 5.1 0 1 0 -10.2 0ZM569.3 670.9a5.1 5.1 0 1 0 10.2 0a5.1 5.1 0 1 0 -10.2 0ZM551.1 687.8a5.1 5.1 0 1 0 10.2 0a5.1 5.1 0 1 0 -10.2 0ZM553.9 696.2a5.1 5.1 0 1 0 10.2 0a5.1 5.1 0 1 0 -10.2 0ZM562.3 694.8a5.1 5.1 0 1 0 10.2 0a5.1 5.1 0 1 0 -10.2 0ZM567.9 696.2a5.1 5.1 0 1 0 10.2 0a5.1 5.1 0 1 0 -10.2 0ZM568.6 715.9a5.1 5.1 0 1 0 10.2 0a5.1 5.1 0 1 0 -10.2 0ZM581.9 654.6a5.1 5.1 0 1 0 10.2 0a5.1 5.1 0 1 0 -10.2 0ZM610.0 654.6a5.1 5.1 0 1 0 10.2 0a5.1 5.1 0 1 0 -10.2 0ZM617.1 654.6a5.1 5.1 0 1 0 10.2 0a5.1 5.1 0 1 0 -10.2 0ZM638.7 654.6a5.1 5.1 0 1 0 10.2 0a5.1 5.1 0 1 0 -10.2 0ZM683.7 648.7a5.1 5.1 0 1 0 10.2 0a5.1 5.1 0 1 0 -10.2 0ZM602.1 662.4a5.1 5.1 0 1 0 10.2 0a5.1 5.1 0 1 0 -10.2 0ZM667.4 663.1a5.1 5.1 0 1 0 10.2 0a5.1 5.1 0 1 0 -10.2 0ZM571.4 670.9a5.1 5.1 0 1 0 10.2 0a5.1 5.1 0 1 0 -10.2 0ZM582.5 670.9a5.1 5.1 0 1 0 10.2 0a5.1 5.1 0 1 0 -10.2 0ZM591.0 670.9a5.1 5.1 0 1 0 10.2 0a5.1 5.1 0 1 0 -10.2 0ZM600.2 670.9a5.1 5.1 0 1 0 10.2 0a5.1 5.1 0 1 0 -10.2 0ZM608.6 670.9a5.1 5.1 0 1 0 10.2 0a5.1 5.1 0 1 0 -10.2 0ZM619.7 670.9a5.1 5.1 0 1 0 10.2 0a5.1 5.1 0 1 0 -10.2 0ZM625.6 670.9a5.1 5.1 0 1 0 10.2 0a5.1 5.1 0 1 0 -10.2 0ZM639.3 670.9a5.1 5.1 0 1 0 10.2 0a5.1 5.1 0 1 0 -10.2 0ZM649.8 670.9a5.1 5.1 0 1 0 10.2 0a5.1 5.1 0 1 0 -10.2 0ZM658.3 670.9a5.1 5.1 0 1 0 10.2 0a5.1 5.1 0 1 0 -10.2 0ZM679.8 670.9a5.1 5.1 0 1 0 10.2 0a5.1 5.1 0 1 0 -10.2 0ZM583.2 691.2a5.1 5.1 0 1 0 10.2 0a5.1 5.1 0 1 0 -10.2 0ZM596.2 689.2a5.1 5.1 0 1 0 10.2 0a5.1 5.1 0 1 0 -10.2 0ZM585.8 695.7a5.1 5.1 0 1 0 10.2 0a5.1 5.1 0 1 0 -10.2 0ZM572.7 696.4a5.1 5.1 0 1 0 10.2 0a5.1 5.1 0 1 0 -10.2 0ZM615.8 693.1a5.1 5.1 0 1 0 10.2 0a5.1 5.1 0 1 0 -10.2 0ZM609.3 698.3a5.1 5.1 0 1 0 10.2 0a5.1 5.1 0 1 0 -10.2 0ZM576.0 707.5a5.1 5.1 0 1 0 10.2 0a5.1 5.1 0 1 0 -10.2 0ZM572.1 716.0a5.1 5.1 0 1 0 10.2 0a5.1 5.1 0 1 0 -10.2 0ZM591.0 707.5a5.1 5.1 0 1 0 10.2 0a5.1 5.1 0 1 0 -10.2 0ZM609.3 707.5a5.1 5.1 0 1 0 10.2 0a5.1 5.1 0 1 0 -10.2 0ZM626.9 707.5a5.1 5.1 0 1 0 10.2 0a5.1 5.1 0 1 0 -10.2 0ZM636.1 707.5a5.1 5.1 0 1 0 10.2 0a5.1 5.1 0 1 0 -10.2 0ZM648.5 696.4a5.1 5.1 0 1 0 10.2 0a5.1 5.1 0 1 0 -10.2 0ZM656.3 696.4a5.1 5.1 0 1 0 10.2 0a5.1 5.1 0 1 0 -10.2 0ZM665.4 696.4a5.1 5.1 0 1 0 10.2 0a5.1 5.1 0 1 0 -10.2 0ZM674.6 696.4a5.1 5.1 0 1 0 10.2 0a5.1 5.1 0 1 0 -10.2 0ZM681.1 696.4a5.1 5.1 0 1 0 10.2 0a5.1 5.1 0 1 0 -10.2 0ZM655.0 687.9a5.1 5.1 0 1 0 10.2 0a5.1 5.1 0 1 0 -10.2 0ZM664.1 687.9a5.1 5.1 0 1 0 10.2 0a5.1 5.1 0 1 0 -10.2 0ZM673.3 687.9a5.1 5.1 0 1 0 10.2 0a5.1 5.1 0 1 0 -10.2 0ZM678.5 689.2a5.1 5.1 0 1 0 10.2 0a5.1 5.1 0 1 0 -10.2 0ZM684.4 678.8a5.1 5.1 0 1 0 10.2 0a5.1 5.1 0 1 0 -10.2 0ZM703.8 637.4a5.1 5.1 0 1 0 10.2 0a5.1 5.1 0 1 0 -10.2 0ZM724.2 637.4a5.1 5.1 0 1 0 10.2 0a5.1 5.1 0 1 0 -10.2 0ZM795.8 637.4a5.1 5.1 0 1 0 10.2 0a5.1 5.1 0 1 0 -10.2 0ZM685.5 648.6a5.1 5.1 0 1 0 10.2 0a5.1 5.1 0 1 0 -10.2 0ZM694.0 648.6a5.1 5.1 0 1 0 10.2 0a5.1 5.1 0 1 0 -10.2 0ZM719.2 648.6a5.1 5.1 0 1 0 10.2 0a5.1 5.1 0 1 0 -10.2 0ZM778.3 647.9a5.1 5.1 0 1 0 10.2 0a5.1 5.1 0 1 0 -10.2 0ZM781.1 654.3a5.1 5.1 0 1 0 10.2 0a5.1 5.1 0 1 0 -10.2 0ZM719.9 659.9a5.1 5.1 0 1 0 10.2 0a5.1 5.1 0 1 0 -10.2 0ZM695.4 671.1a5.1 5.1 0 1 0 10.2 0a5.1 5.1 0 1 0 -10.2 0ZM703.8 671.1a5.1 5.1 0 1 0 10.2 0a5.1 5.1 0 1 0 -10.2 0ZM710.1 671.8a5.1 5.1 0 1 0 10.2 0a5.1 5.1 0 1 0 -10.2 0ZM724.2 671.1a5.1 5.1 0 1 0 10.2 0a5.1 5.1 0 1 0 -10.2 0ZM742.4 671.1a5.1 5.1 0 1 0 10.2 0a5.1 5.1 0 1 0 -10.2 0ZM753.0 671.1a5.1 5.1 0 1 0 10.2 0a5.1 5.1 0 1 0 -10.2 0ZM768.4 671.1a5.1 5.1 0 1 0 10.2 0a5.1 5.1 0 1 0 -10.2 0ZM774.7 671.8a5.1 5.1 0 1 0 10.2 0a5.1 5.1 0 1 0 -10.2 0ZM788.1 671.1a5.1 5.1 0 1 0 10.2 0a5.1 5.1 0 1 0 -10.2 0ZM797.2 671.1a5.1 5.1 0 1 0 10.2 0a5.1 5.1 0 1 0 -10.2 0ZM687.6 679.6a5.1 5.1 0 1 0 10.2 0a5.1 5.1 0 1 0 -10.2 0ZM703.8 687.3a5.1 5.1 0 1 0 10.2 0a5.1 5.1 0 1 0 -10.2 0ZM701.0 695.7a5.1 5.1 0 1 0 10.2 0a5.1 5.1 0 1 0 -10.2 0ZM705.9 697.1a5.1 5.1 0 1 0 10.2 0a5.1 5.1 0 1 0 -10.2 0ZM712.2 695.7a5.1 5.1 0 1 0 10.2 0a5.1 5.1 0 1 0 -10.2 0ZM734.7 695.7a5.1 5.1 0 1 0 10.2 0a5.1 5.1 0 1 0 -10.2 0ZM741.7 688.7a5.1 5.1 0 1 0 10.2 0a5.1 5.1 0 1 0 -10.2 0ZM748.7 688.0a5.1 5.1 0 1 0 10.2 0a5.1 5.1 0 1 0 -10.2 0ZM753.0 687.3a5.1 5.1 0 1 0 10.2 0a5.1 5.1 0 1 0 -10.2 0ZM744.5 695.7a5.1 5.1 0 1 0 10.2 0a5.1 5.1 0 1 0 -10.2 0ZM751.6 695.7a5.1 5.1 0 1 0 10.2 0a5.1 5.1 0 1 0 -10.2 0ZM760.7 695.7a5.1 5.1 0 1 0 10.2 0a5.1 5.1 0 1 0 -10.2 0ZM775.4 695.7a5.1 5.1 0 1 0 10.2 0a5.1 5.1 0 1 0 -10.2 0ZM788.8 695.7a5.1 5.1 0 1 0 10.2 0a5.1 5.1 0 1 0 -10.2 0ZM795.8 695.7a5.1 5.1 0 1 0 10.2 0a5.1 5.1 0 1 0 -10.2 0ZM781.1 704.1a5.1 5.1 0 1 0 10.2 0a5.1 5.1 0 1 0 -10.2 0ZM789.5 704.1a5.1 5.1 0 1 0 10.2 0a5.1 5.1 0 1 0 -10.2 0ZM689.0 707.7a5.1 5.1 0 1 0 10.2 0a5.1 5.1 0 1 0 -10.2 0ZM755.8 707.7a5.1 5.1 0 1 0 10.2 0a5.1 5.1 0 1 0 -10.2 0ZM768.4 716.8a5.1 5.1 0 1 0 10.2 0a5.1 5.1 0 1 0 -10.2 0ZM715.0 725.9a5.1 5.1 0 1 0 10.2 0a5.1 5.1 0 1 0 -10.2 0ZM734.0 725.9a5.1 5.1 0 1 0 10.2 0a5.1 5.1 0 1 0 -10.2 0ZM741.7 725.9a5.1 5.1 0 1 0 10.2 0a5.1 5.1 0 1 0 -10.2 0ZM882.0 648.6a5.1 5.1 0 1 0 10.2 0a5.1 5.1 0 1 0 -10.2 0ZM910.1 648.6a5.1 5.1 0 1 0 10.2 0a5.1 5.1 0 1 0 -10.2 0ZM807.5 671.1a5.1 5.1 0 1 0 10.2 0a5.1 5.1 0 1 0 -10.2 0ZM823.0 671.1a5.1 5.1 0 1 0 10.2 0a5.1 5.1 0 1 0 -10.2 0ZM839.9 671.1a5.1 5.1 0 1 0 10.2 0a5.1 5.1 0 1 0 -10.2 0ZM845.5 671.1a5.1 5.1 0 1 0 10.2 0a5.1 5.1 0 1 0 -10.2 0ZM891.9 671.1a5.1 5.1 0 1 0 10.2 0a5.1 5.1 0 1 0 -10.2 0ZM901.7 671.1a5.1 5.1 0 1 0 10.2 0a5.1 5.1 0 1 0 -10.2 0ZM838.5 683.8a5.1 5.1 0 1 0 10.2 0a5.1 5.1 0 1 0 -10.2 0ZM891.9 682.4a5.1 5.1 0 1 0 10.2 0a5.1 5.1 0 1 0 -10.2 0ZM809.7 687.3a5.1 5.1 0 1 0 10.2 0a5.1 5.1 0 1 0 -10.2 0ZM807.5 696.4a5.1 5.1 0 1 0 10.2 0a5.1 5.1 0 1 0 -10.2 0ZM830.0 696.4a5.1 5.1 0 1 0 10.2 0a5.1 5.1 0 1 0 -10.2 0ZM846.9 696.4a5.1 5.1 0 1 0 10.2 0a5.1 5.1 0 1 0 -10.2 0ZM856.7 694.3a5.1 5.1 0 1 0 10.2 0a5.1 5.1 0 1 0 -10.2 0ZM859.5 692.9a5.1 5.1 0 1 0 10.2 0a5.1 5.1 0 1 0 -10.2 0ZM870.1 696.4a5.1 5.1 0 1 0 10.2 0a5.1 5.1 0 1 0 -10.2 0ZM925.9 671.1a5.1 5.1 0 1 0 10.2 0a5.1 5.1 0 1 0 -10.2 0Z"/>
<line x1="112" y1="671.40" x2="977" y2="671.40" stroke="#7f7f7f" stroke-width="3.5" stroke-dasharray="14 6.26"/>
<line x1="530.60" y1="883.3" x2="530.60" y2="531" stroke="#7f7f7f" stroke-width="3.5" stroke-dasharray="14 6.26"/>
<path d="M111.80,831.64 L113.96,831.64 L116.13,831.64 L118.29,831.64 L120.46,831.64 L122.62,831.64 L124.78,831.64 L126.95,831.64 L129.11,831.64 L131.27,831.64 L133.44,831.64 L135.60,831.64 L137.77,831.64 L139.93,831.64 L142.09,831.64 L144.26,831.64 L146.42,831.64 L148.58,831.64 L150.75,831.64 L152.91,831.64 L155.08,831.64 L157.24,831.64 L159.40,831.64 L161.57,831.64 L163.73,831.64 L165.89,831.64 L168.06,831.64 L170.22,831.64 L172.39,831.64 L174.55,831.64 L176.71,831.64 L178.88,831.64 L181.04,831.64 L183.21,831.64 L185.37,831.64 L187.53,831.64 L189.70,831.64 L191.86,831.64 L194.02,831.64 L196.19,831.64 L198.35,831.64 L200.52,831.64 L202.68,831.64 L204.84,831.64 L207.01,831.64 L209.17,831.64 L211.33,831.64 L213.50,831.64 L215.66,831.64 L217.83,831.64 L219.99,831.64 L222.15,831.64 L224.32,831.64 L226.48,831.64 L228.65,831.64 L230.81,831.64 L232.97,831.64 L235.14,831.64 L237.30,831.64 L239.46,831.64 L241.63,831.64 L243.79,831.64 L245.96,831.64 L248.12,831.64 L250.28,831.64 L252.45,831.64 L254.61,831.60 L256.77,831.53 L258.94,831.43 L261.10,831.29 L263.27,831.12 L265.43,830.92 L267.59,830.68 L269.76,830.41 L271.92,830.10 L274.09,829.76 L276.25,829.38 L278.41,828.98 L280.58,828.54 L282.74,828.07 L284.90,827.56 L287.07,827.03 L289.23,826.46 L291.40,825.86 L293.56,825.23 L295.72,824.57 L297.89,823.88 L300.05,823.16 L302.21,822.42 L304.38,821.64 L306.54,820.84 L308.71,820.00 L310.87,819.14 L313.03,818.26 L315.20,817.34 L317.36,816.41 L319.52,815.44 L321.69,814.46 L323.85,813.45 L326.02,812.41 L328.18,811.36 L330.34,810.28 L332.51,809.18 L334.67,808.06 L336.84,806.92 L339.00,805.76 L341.16,804.58 L343.33,803.38 L345.49,802.17 L347.65,800.94 L349.82,799.69 L351.98,798.43 L354.15,797.15 L356.31,795.86 L358.47,794.56 L360.64,793.24 L362.80,791.91 L364.96,790.57 L367.13,789.22 L369.29,787.86 L371.46,786.50 L373.62,785.12 L375.78,783.73 L377.95,782.34 L380.11,780.94 L382.27,779.54 L384.44,778.13 L386.60,776.72 L388.77,775.30 L390.93,773.88 L393.09,772.46 L395.26,771.04 L397.42,769.61 L399.59,768.19 L401.75,766.76 L403.91,765.34 L406.08,763.92 L408.24,762.50 L410.40,761.08 L412.57,759.66 L414.73,758.25 L416.90,756.84 L419.06,755.44 L421.22,754.04 L423.39,752.65 L425.55,751.27 L427.71,749.89 L429.88,748.52 L432.04,747.15 L434.21,745.80 L436.37,744.45 L438.53,743.11 L440.70,741.79 L442.86,740.47 L445.03,739.16 L447.19,737.86 L449.35,736.57 L451.52,735.30 L453.68,734.03 L455.84,732.78 L458.01,731.54 L460.17,730.31 L462.34,729.09 L464.50,727.89 L466.66,726.70 L468.83,725.53 L470.99,724.36 L473.15,723.21 L475.32,722.08 L477.48,720.96 L479.65,719.85 L481.81,718.76 L483.97,717.69 L486.14,716.62 L488.30,715.58 L490.46,714.54 L492.63,713.53 L494.79,712.52 L496.96,711.54 L499.12,710.57 L501.28,709.61 L503.45,708.67 L505.61,707.74 L507.78,706.83 L509.94,705.94 L512.10,705.06 L514.27,704.19 L516.43,703.35 L518.59,702.51 L520.76,701.69 L522.92,700.89 L525.09,700.10 L527.25,699.33 L529.41,698.57 L531.58,697.83 L533.74,697.10 L535.90,696.39 L538.07,695.69 L540.23,695.00 L542.40,694.33 L544.56,693.68 L546.72,693.03 L548.89,692.41 L551.05,691.79 L553.22,691.19 L555.38,690.61 L557.54,690.03 L559.71,689.47 L561.87,688.93 L564.03,688.39 L566.20,687.87 L568.36,687.36 L570.53,686.86 L572.69,686.38 L574.85,685.91 L577.02,685.45 L579.18,685.00 L581.34,684.56 L583.51,684.14 L585.67,683.72 L587.84,683.32 L590.00,682.92 L592.16,682.54 L594.33,682.17 L596.49,681.81 L598.65,681.46 L600.82,681.11 L602.98,680.78 L605.15,680.46 L607.31,680.14 L609.47,679.84 L611.64,679.54 L613.80,679.26 L615.97,678.98 L618.13,678.71 L620.29,678.45 L622.46,678.19 L624.62,677.94 L626.78,677.71 L628.95,677.47 L631.11,677.25 L633.28,677.03 L635.44,676.82 L637.60,676.62 L639.77,676.42 L641.93,676.23 L644.09,676.05 L646.26,675.87 L648.42,675.70 L650.59,675.53 L652.75,675.37 L654.91,675.21 L657.08,675.06 L659.24,674.92 L661.41,674.78 L663.57,674.64 L665.73,674.51 L667.90,674.39 L670.06,674.26 L672.22,674.15 L674.39,674.04 L676.55,673.93 L678.72,673.82 L680.88,673.72 L683.04,673.62 L685.21,673.53 L687.37,673.44 L689.53,673.35 L691.70,673.27 L693.86,673.19 L696.03,673.11 L698.19,673.04 L700.35,672.97 L702.52,672.90 L704.68,672.83 L706.85,672.77 L709.01,672.71 L711.17,672.65 L713.34,672.59 L715.50,672.54 L717.66,672.49 L719.83,672.44 L721.99,672.39 L724.16,672.35 L726.32,672.30 L728.48,672.26 L730.65,672.22 L732.81,672.18 L734.97,672.15 L737.14,672.11 L739.30,672.08 L741.47,672.05 L743.63,672.02 L745.79,671.99 L747.96,671.96 L750.12,671.93 L752.28,671.90 L754.45,671.88 L756.61,671.86 L758.78,671.83 L760.94,671.81 L763.10,671.79 L765.27,671.77 L767.43,671.75 L769.60,671.74 L771.76,671.72 L773.92,671.70 L776.09,671.69 L778.25,671.67 L780.41,671.66 L782.58,671.65 L784.74,671.63 L786.91,671.62 L789.07,671.61 L791.23,671.60 L793.40,671.59 L795.56,671.58 L797.72,671.57 L799.89,671.56 L802.05,671.55 L804.22,671.54 L806.38,671.54 L808.54,671.53 L810.71,671.52 L812.87,671.52 L815.03,671.51 L817.20,671.50 L819.36,671.50 L821.53,671.49 L823.69,671.49 L825.85,671.48 L828.02,671.48 L830.18,671.47 L832.35,671.47 L834.51,671.47 L836.67,671.46 L838.84,671.46 L841.00,671.45 L843.16,671.45 L845.33,671.45 L847.49,671.45 L849.66,671.44 L851.82,671.44 L853.98,671.44 L856.15,671.44 L858.31,671.43 L860.47,671.43 L862.64,671.43 L864.80,671.43 L866.97,671.43 L869.13,671.43 L871.29,671.42 L873.46,671.42 L875.62,671.42 L877.79,671.42 L879.95,671.42 L882.11,671.42 L884.28,671.42 L886.44,671.42 L888.60,671.41 L890.77,671.41 L892.93,671.41 L895.10,671.41 L897.26,671.41 L899.42,671.41 L901.59,671.41 L903.75,671.41 L905.91,671.41 L908.08,671.41 L910.24,671.41 L912.41,671.41 L914.57,671.41 L916.73,671.41 L918.90,671.41 L921.06,671.41 L923.22,671.41 L925.39,671.40 L927.55,671.40 L929.72,671.40 L931.88,671.40 L934.04,671.40 L936.21,671.40 L938.37,671.40 L940.54,671.40 L942.70,671.40 L944.86,671.40 L947.03,671.40 L949.19,671.40 L951.35,671.40 L953.52,671.40 L955.68,671.40 L957.85,671.40 L960.01,671.40 L962.17,671.40 L964.34,671.40 L966.50,671.40 L968.66,671.40 L970.83,671.40 L972.99,671.40 L975.16,671.40 L977.32,671.40" fill="none" stroke="#000" stroke-width="5.4" stroke-dasharray="23.4 10.3"/>
</g>
<g stroke="#000" stroke-linecap="butt"><line x1="103.50" y1="339.40" x2="112.00" y2="339.40" stroke-width="1.5"/><line x1="103.50" y1="152.80" x2="112.00" y2="152.80" stroke-width="1.5"/><line x1="106.50" y1="302.08" x2="112.00" y2="302.08" stroke-width="1.4"/><line x1="106.50" y1="264.76" x2="112.00" y2="264.76" stroke-width="1.4"/><line x1="106.50" y1="227.44" x2="112.00" y2="227.44" stroke-width="1.4"/><line x1="106.50" y1="190.12" x2="112.00" y2="190.12" stroke-width="1.4"/><line x1="106.50" y1="115.48" x2="112.00" y2="115.48" stroke-width="1.4"/><line x1="106.50" y1="78.16" x2="112.00" y2="78.16" stroke-width="1.4"/><line x1="106.50" y1="40.84" x2="112.00" y2="40.84" stroke-width="1.4"/><line x1="106.50" y1="3.52" x2="112.00" y2="3.52" stroke-width="1.4"/><line x1="319.83" y1="355.00" x2="319.83" y2="364.00" stroke-width="1.5"/><line x1="544.51" y1="355.00" x2="544.51" y2="364.00" stroke-width="1.5"/><line x1="769.19" y1="355.00" x2="769.19" y2="364.00" stroke-width="1.5"/><line x1="140.09" y1="355.00" x2="140.09" y2="361.00" stroke-width="1.4"/><line x1="185.02" y1="355.00" x2="185.02" y2="361.00" stroke-width="1.4"/><line x1="229.96" y1="355.00" x2="229.96" y2="361.00" stroke-width="1.4"/><line x1="274.89" y1="355.00" x2="274.89" y2="361.00" stroke-width="1.4"/><line x1="364.76" y1="355.00" x2="364.76" y2="361.00" stroke-width="1.4"/><line x1="409.70" y1="355.00" x2="409.70" y2="361.00" stroke-width="1.4"/><line x1="454.64" y1="355.00" x2="454.64" y2="361.00" stroke-width="1.4"/><line x1="499.57" y1="355.00" x2="499.57" y2="361.00" stroke-width="1.4"/><line x1="589.44" y1="355.00" x2="589.44" y2="361.00" stroke-width="1.4"/><line x1="634.38" y1="355.00" x2="634.38" y2="361.00" stroke-width="1.4"/><line x1="679.32" y1="355.00" x2="679.32" y2="361.00" stroke-width="1.4"/><line x1="724.25" y1="355.00" x2="724.25" y2="361.00" stroke-width="1.4"/><line x1="814.12" y1="355.00" x2="814.12" y2="361.00" stroke-width="1.4"/><line x1="859.06" y1="355.00" x2="859.06" y2="361.00" stroke-width="1.4"/><line x1="904.00" y1="355.00" x2="904.00" y2="361.00" stroke-width="1.4"/><line x1="948.93" y1="355.00" x2="948.93" y2="361.00" stroke-width="1.4"/><line x1="103.50" y1="871.70" x2="112.00" y2="871.70" stroke-width="1.5"/><line x1="103.50" y1="671.40" x2="112.00" y2="671.40" stroke-width="1.5"/><line x1="106.50" y1="831.64" x2="112.00" y2="831.64" stroke-width="1.4"/><line x1="106.50" y1="791.58" x2="112.00" y2="791.58" stroke-width="1.4"/><line x1="106.50" y1="751.52" x2="112.00" y2="751.52" stroke-width="1.4"/><line x1="106.50" y1="711.46" x2="112.00" y2="711.46" stroke-width="1.4"/><line x1="106.50" y1="631.34" x2="112.00" y2="631.34" stroke-width="1.4"/><line x1="106.50" y1="591.28" x2="112.00" y2="591.28" stroke-width="1.4"/><line x1="106.50" y1="551.22" x2="112.00" y2="551.22" stroke-width="1.4"/><line x1="251.40" y1="883.30" x2="251.40" y2="892.00" stroke-width="1.5"/><line x1="530.60" y1="883.30" x2="530.60" y2="892.00" stroke-width="1.5"/><line x1="809.80" y1="883.30" x2="809.80" y2="892.00" stroke-width="1.5"/><line x1="139.72" y1="883.30" x2="139.72" y2="889.00" stroke-width="1.4"/><line x1="195.56" y1="883.30" x2="195.56" y2="889.00" stroke-width="1.4"/><line x1="307.24" y1="883.30" x2="307.24" y2="889.00" stroke-width="1.4"/><line x1="363.08" y1="883.30" x2="363.08" y2="889.00" stroke-width="1.4"/><line x1="418.92" y1="883.30" x2="418.92" y2="889.00" stroke-width="1.4"/><line x1="474.76" y1="883.30" x2="474.76" y2="889.00" stroke-width="1.4"/><line x1="586.44" y1="883.30" x2="586.44" y2="889.00" stroke-width="1.4"/><line x1="642.28" y1="883.30" x2="642.28" y2="889.00" stroke-width="1.4"/><line x1="698.12" y1="883.30" x2="698.12" y2="889.00" stroke-width="1.4"/><line x1="753.96" y1="883.30" x2="753.96" y2="889.00" stroke-width="1.4"/><line x1="865.64" y1="883.30" x2="865.64" y2="889.00" stroke-width="1.4"/><line x1="921.48" y1="883.30" x2="921.48" y2="889.00" stroke-width="1.4"/></g>
<rect x="112" y="3" width="865" height="352" fill="none" stroke="#000" stroke-width="2"/>
<rect x="112" y="531" width="865" height="352.3" fill="none" stroke="#000" stroke-width="2"/>
<g font-family="Liberation Serif" font-size="100"><text transform="translate(286.16,108.22) scale(0.6139,0.6782)">Fe</text><text transform="translate(52.07,168.55) scale(0.4253,0.4533)">10</text><text transform="translate(73.43,355.83) scale(0.4167,0.4652)">0</text><text transform="translate(298.80,405.24) scale(0.4218,0.4622)">10</text><text transform="translate(523.07,405.24) scale(0.4295,0.4622)">20</text><text transform="translate(747.65,405.24) scale(0.4308,0.4622)">30</text><text transform="translate(494.15,464.02) scale(0.5114,0.4452)" font-style="italic">r</text><text transform="translate(532.52,464.27) scale(0.3961,0.5111)">(</text><text transform="translate(546.78,463.80) scale(0.4227,0.5018)">Å</text><text transform="translate(578.63,464.27) scale(0.3885,0.5111)">)</text><text transform="translate(33.10,194.44) rotate(-90) scale(0.5161,0.4785)" font-style="italic">N</text><text transform="translate(73.02,687.20) scale(0.4086,0.4595)">1</text><text transform="translate(73.43,888.23) scale(0.4167,0.4696)">0</text><text transform="translate(241.24,933.43) scale(0.4143,0.4652)">0</text><text transform="translate(520.35,932.90) scale(0.3943,0.4580)">1</text><text transform="translate(799.20,932.70) scale(0.4225,0.4545)">2</text><text transform="translate(443.71,982.89) scale(0.4196,0.5100)">(</text><text transform="translate(457.24,982.02) scale(0.5400,0.4495)" font-style="italic">r</text><text transform="translate(491.14,986.85) scale(0.5914,0.5000)">−</text><text transform="translate(534.53,982.42) scale(0.5429,0.4473)" font-style="italic">r</text><text transform="translate(554.43,988.68) scale(0.3626,0.3243)">d</text><text transform="translate(575.30,982.73) scale(0.4000,0.5033)">)</text><text transform="translate(593.10,992.03) scale(0.6218,0.6722)">/</text><text transform="translate(612.48,982.42) scale(0.5057,0.4473)" font-style="italic">r</text><text transform="translate(632.13,988.71) scale(0.3413,0.2938)">c</text><text transform="translate(47.40,759.25) rotate(-90) scale(0.5035,0.4815)" font-style="italic">N</text><text transform="translate(57.82,722.90) rotate(-90) scale(0.6400,0.6767)">/</text><text transform="translate(47.40,702.45) rotate(-90) scale(0.5021,0.4815)" font-style="italic">N</text><text transform="translate(54.05,669.23) rotate(-90) scale(0.3528,0.3074)">p</text></g>
<rect x="130.1" y="548.3" width="231.3" height="160.4" rx="5" fill="#fff" stroke="#cccccc" stroke-width="2.2"/>
<path fill="#f58024" d="M179.8 564.4L186.6 575.7L179.8 587.0L173.0 575.7Z"/>
<path fill="#1fbcce" d="M179.8 617.4L186.7 631.8L172.9 631.8Z"/>
<path fill="#d62728" d="M174.8 675.0a5.0 5.0 0 1 0 10.0 0a5.0 5.0 0 1 0 -10.0 0Z"/>
<g font-family="Liberation Serif" font-size="36">
<text x="243.5" y="588">M07</text>
<text x="243.5" y="637.5">M07-B</text>
<text x="243.5" y="687.5">AM04</text>
</g>
</svg></body></html>
